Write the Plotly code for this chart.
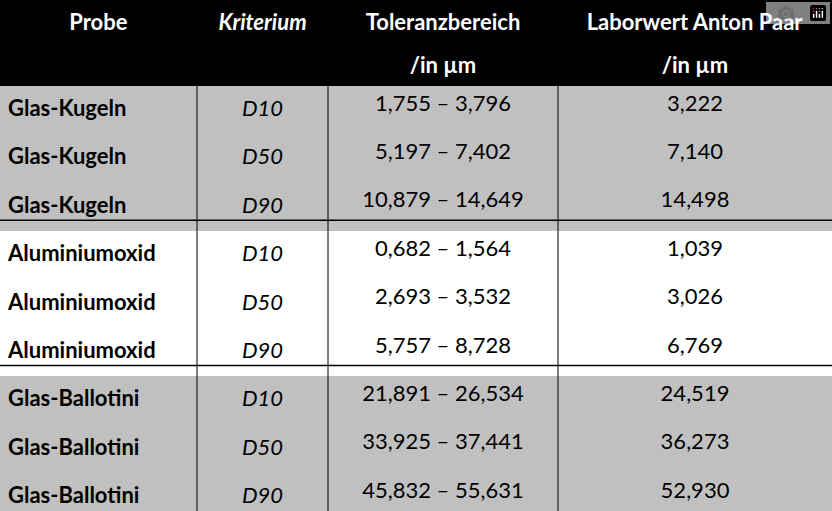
import plotly.graph_objects as go

proben = ["Glas-Kugeln"]*3 + ["Aluminiumoxid"]*3 + ["Glas-Ballotini"]*3
kriterium = ["D10", "D50", "D90"]*3
toleranz = ["1,755 – 3,796", "5,197 – 7,402", "10,879 – 14,649",
            "0,682 – 1,564", "2,693 – 3,532", "5,757 – 8,728",
            "21,891 – 26,534", "33,925 – 37,441", "45,832 – 55,631"]
laborwert = ["3,222", "7,140", "14,498", "1,039", "3,026", "6,769",
             "24,519", "36,273", "52,930"]
headers = [["<b>Probe</b>", ""], ["<b><i>Kriterium</i></b>", ""],
           ["<b>Toleranzbereich</b>", "<b>/in µm</b>"],
           ["<b>Laborwert Anton Paar</b>", "<b>/in µm</b>"]]

gray, white = "#c0c0c0", "#ffffff"
rowfill = [gray]*3 + [white]*3 + [gray]*3
W, H = 832, 511
colw = [197, 131, 230, 274]
HH = 37.5
RH = 48.4

fig = go.Figure(go.Table(
    columnwidth=colw,
    domain=dict(x=[0, 1], y=[0, 1]),
    header=dict(values=headers, fill_color="black", height=HH,
                font=dict(family="Lato", size=22, color="white"),
                align="center", line=dict(width=0, color="black")),
    cells=dict(values=[["<b>%s</b>" % p for p in proben],
                       ["<i>%s</i>" % k for k in kriterium], toleranz, laborwert],
               fill_color=[rowfill]*4, height=RH,
               font=dict(family="Lato", size=22, color="black"),
               align=["left", "center", "center", "center"],
               line=dict(width=0, color="black")),
))
shapes = []
x = 0
for w in colw[:-1]:
    x += w
    shapes.append(dict(type="line", xref="paper", yref="paper", x0=x/W, x1=x/W,
                       y0=0, y1=1 - 2*HH/H, line=dict(color="black", width=1)))
for yy in [2*HH + 3*RH, 2*HH + 6*RH]:
    shapes.append(dict(type="line", xref="paper", yref="paper", x0=0, x1=1,
                       y0=1 - yy/H, y1=1 - yy/H, line=dict(color="black", width=1.5)))
fig.update_layout(width=W, height=H, margin=dict(l=0, r=0, t=0, b=0),
                  paper_bgcolor="white", shapes=shapes)
fig.write_html("out.html", post_script="document.body.style.margin='0';")
